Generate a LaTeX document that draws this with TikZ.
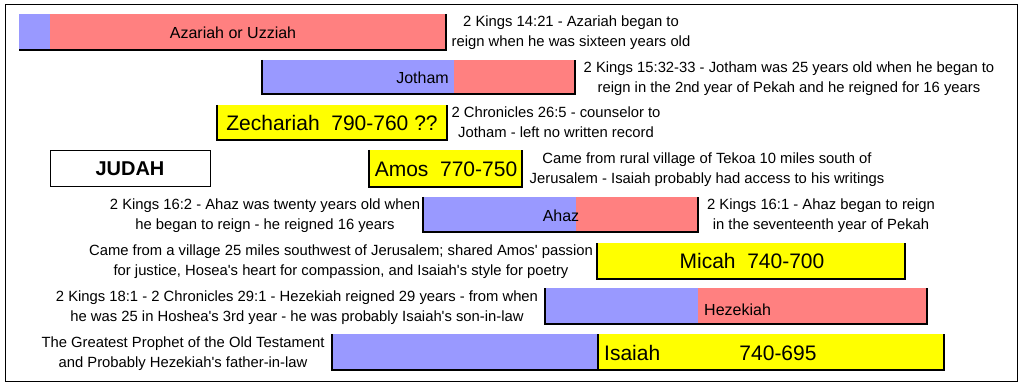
\documentclass[tikz,border=0pt]{standalone}
\usepackage{fontspec}
\setmainfont{Liberation Sans}
\usepackage{tikz}
\definecolor{reignblue}{HTML}{9999FF}
\definecolor{reignred}{HTML}{FF8080}
\definecolor{prophet}{HTML}{FFFF00}
\newcommand{\apos}{\textquotesingle}
\tikzset{note/.style = {align = center, inner sep = 0, font = \fontsize{14.8}{20}\selectfont},
         barlabel/.style = {inner sep = 0, font = \fontsize{16}{16}\selectfont},
         biglabel/.style = {inner sep = 0, font = \fontsize{21}{21}\selectfont},
         edge/.style = {line width = 2pt}}

\begin{document}
\begin{tikzpicture}[x = 1pt, y = -1pt]
      \useasboundingbox (0, 0) rectangle (1024, 387);
      \draw [line width = 1pt] (5, 5) rectangle (1017, 381);
      % Azariah
      \fill [reignblue] (19, 14) rectangle (50, 50);
      \fill [reignred] (50, 14) rectangle (446, 50);
      \draw [edge] (19, 50) -- (446, 50) -- (446, 14);
      \node [barlabel] (azariah) at (233, 33) {Azariah or Uzziah};
      \node [note] (azariahnote) at (571, 32.5) {2 Kings 14:21 - Azariah began to\\reign when he was sixteen years old};
      % Jotham
      \fill [reignblue] (262, 60) rectangle (454, 94);
      \fill [reignred] (454, 60) rectangle (575, 94);
      \draw [edge] (262, 60) -- (262, 94) -- (575, 94) -- (575, 60);
      \node [barlabel, anchor = east] (jotham) at (449, 78) {Jotham};
      \node [note] (jothamnote) at (789, 78.5) {2 Kings 15:32-33 - Jotham was 25 years old when he began to\\reign in the 2nd year of Pekah and he reigned for 16 years};
      % Zechariah
      \fill [prophet] (217, 105) rectangle (447, 140);
      \draw [edge] (217, 105) -- (217, 140) -- (447, 140) -- (447, 105);
      \node [biglabel] (zechariah) at (332, 123) {Zechariah\ \ 790-760 ??};
      \node [note] (zechariahnote) at (556, 122.5) {2 Chronicles 26:5 - counselor to\\Jotham - left no written record};
      % Judah, Amos
      \node [draw, fill = white, minimum width = 160, minimum height = 36, font = \fontsize{20}{20}\selectfont\bfseries] (judah) at (130, 168.5) {JUDAH};
      \fill [prophet] (369, 150) rectangle (522, 187);
      \draw [edge] (369, 150) -- (369, 187) -- (522, 187) -- (522, 150);
      \node [biglabel] (amos) at (446, 169) {Amos\ \ 770-750};
      \node [note] (amosnote) at (707, 170) {Came from rural village of Tekoa 10 miles south of\\Jerusalem - Isaiah probably had access to his writings};
      % Ahaz
      \fill [reignblue] (423, 197) rectangle (576, 232);
      \fill [reignred] (576, 197) rectangle (698, 232);
      \draw [edge] (423, 197) -- (423, 232) -- (698, 232) -- (698, 197);
      \node [barlabel] (ahaz) at (561, 216) {Ahaz};
      \node [note] (ahaznote) at (265, 216) {2 Kings 16:2 - Ahaz was twenty years old when\\he began to reign - he reigned 16 years};
      \node [note] (ahazpekah) at (821, 216) {2 Kings 16:1 - Ahaz began to reign\\in the seventeenth year of Pekah};
      % Micah
      \fill [prophet] (597, 243) rectangle (905, 279);
      \draw [edge] (597, 243) -- (597, 279) -- (905, 279) -- (905, 243);
      \node [biglabel] (micah) at (752, 261) {Micah\ \ 740-700};
      \node [note] (micahnote) at (341, 262) {Came from a village 25 miles southwest of Jerusalem; shared Amos\apos{} passion\\for justice, Hosea\apos s heart for compassion, and Isaiah\apos s style for poetry};
      % Hezekiah
      \fill [reignblue] (545, 288) rectangle (698, 324);
      \fill [reignred] (698, 288) rectangle (927, 324);
      \draw [edge] (545, 288) -- (545, 324) -- (927, 324) -- (927, 288);
      \node [barlabel, anchor = west] (hezekiah) at (704, 310) {Hezekiah};
      \node [note] (hezekiahnote) at (297, 308) {2 Kings 18:1 - 2 Chronicles 29:1 - Hezekiah reigned 29 years - from when\\he was 25 in Hoshea\apos s 3rd year - he was probably Isaiah\apos s son-in-law};
      % Isaiah
      \fill [reignblue] (332, 334) rectangle (598, 370);
      \fill [prophet] (598, 334) rectangle (944, 370);
      \draw [edge] (332, 334) -- (332, 370) -- (944, 370) -- (944, 334);
      \draw [edge] (598, 334) -- (598, 370);
      \node [biglabel, anchor = west] (isaiah) at (604, 353) {Isaiah};
      \node [biglabel] (isaiahyears) at (778, 353) {740-695};
      \node [note] (isaiahnote) at (183, 354) {The Greatest Prophet of the Old Testament\\and Probably Hezekiah\apos s father-in-law};
    \end{tikzpicture}
\end{document}
